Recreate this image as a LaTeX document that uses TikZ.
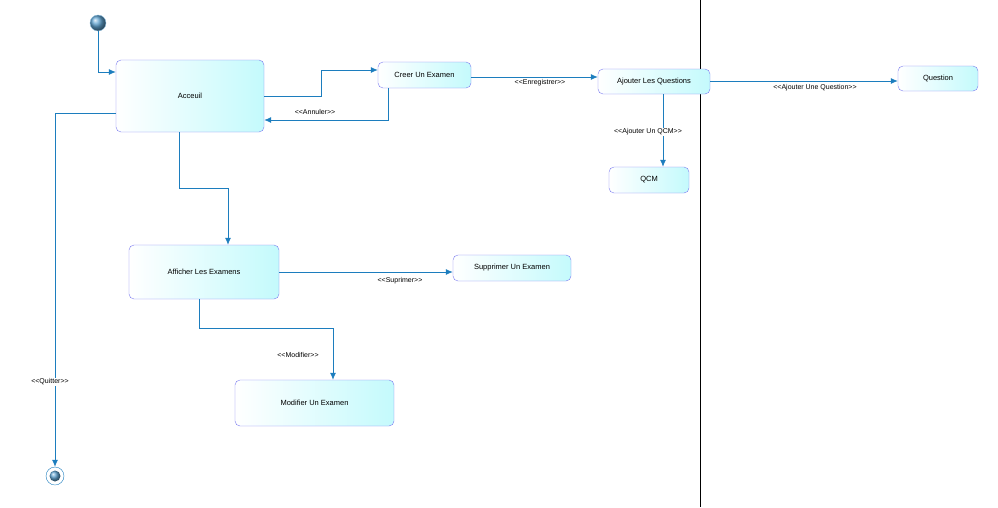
\documentclass[tikz,border=0pt]{standalone}
\usepackage{fontspec}
\setmainfont{Liberation Sans}[Ligatures=NoCommon]
\usetikzlibrary{arrows.meta}
\definecolor{ln}{HTML}{1C7DBE}
\definecolor{bd}{HTML}{7B7BF0}
\definecolor{cy}{HTML}{C4FAFC}
\newcommand{\stereo}[1]{{<}{<}#1{>}{>}}
\begin{document}
\begin{tikzpicture}[x=1pt,y=-1pt,
 st/.style={draw=bd,rounded corners=5pt,shading angle=45,left color=white,right color=cy,font=\fontsize{7.5}{9}\selectfont,inner sep=0pt},
 ar/.style={draw=ln,line width=0.8pt,-{Latex[length=7pt,width=6pt]}},
 lb/.style={font=\fontsize{7}{8}\selectfont,fill=white,inner sep=1pt}]
\useasboundingbox (0,0) rectangle (998,507);
\draw (700,0) -- (700,507);
\node[circle,inner sep=0pt,minimum size=16pt,ball color=ln!70!white,draw=ln!50] (i) at (98,23) {};
\node[st,minimum width=148pt,minimum height=72pt] (a) at (190,96) {Acceuil};
\node[st,minimum width=93pt,minimum height=26pt] (c) at (424.5,75) {Creer Un Examen};
\node[st,minimum width=112pt,minimum height=25pt] (q) at (654,81.5) {Ajouter Les Questions};
\node[st,minimum width=80pt,minimum height=25pt] (qu) at (938,78.5) {Question};
\node[st,minimum width=80pt,minimum height=26pt] (m) at (649,180) {QCM};
\node[st,minimum width=150pt,minimum height=54pt] (f) at (204,272) {Afficher Les Examens};
\node[st,minimum width=118pt,minimum height=26pt] (s) at (512,268) {Supprimer Un Examen};
\node[st,minimum width=159pt,minimum height=46pt] (mo) at (314.5,403) {Modifier Un Examen};
\node[circle,draw=ln,minimum size=18pt,inner sep=0pt] (e) at (55,476) {};
\shade[ball color=ln!70!white] (55,476) circle (5.5pt);
\draw[ar] (i) |- (a.west|-0,72);
\draw[ar] (a.east|-0,96) -- (321,96) |- (c.west|-0,70);
\draw[ar] (c.south-|388,0) |- (a.east|-0,120);
\node[lb] at (315,112) {\stereo{Annuler}};
\draw[ar] (c.east|-0,77) -- (q.west|-0,77);
\node[lb] at (540,83) {\stereo{Enregistrer}};
\draw[ar] (q.east|-0,81) -- (qu.west|-0,81);
\node[lb] at (815,88) {\stereo{Ajouter Une Question}};
\draw[ar] (q.south-|663,0) -- (m.north-|663,0);
\node[lb] at (648,132) {\stereo{Ajouter Un QCM}};
\draw[ar] (a.south-|179,0) -- (179,188) -| (f.north-|228,0);
\draw[ar] (a.west|-0,113) -- (55,113) -- (e.north);
\node[lb] at (50,382) {\stereo{Quitter}};
\draw[ar] (f.east) -- (s.west|-0,272);
\node[lb] at (400,281) {\stereo{Suprimer}};
\draw[ar] (f.south-|199,0) -- (199,328) -| (mo.north-|333,0);
\node[lb] at (298,355) {\stereo{Modifier}};
\end{tikzpicture}
\end{document}
